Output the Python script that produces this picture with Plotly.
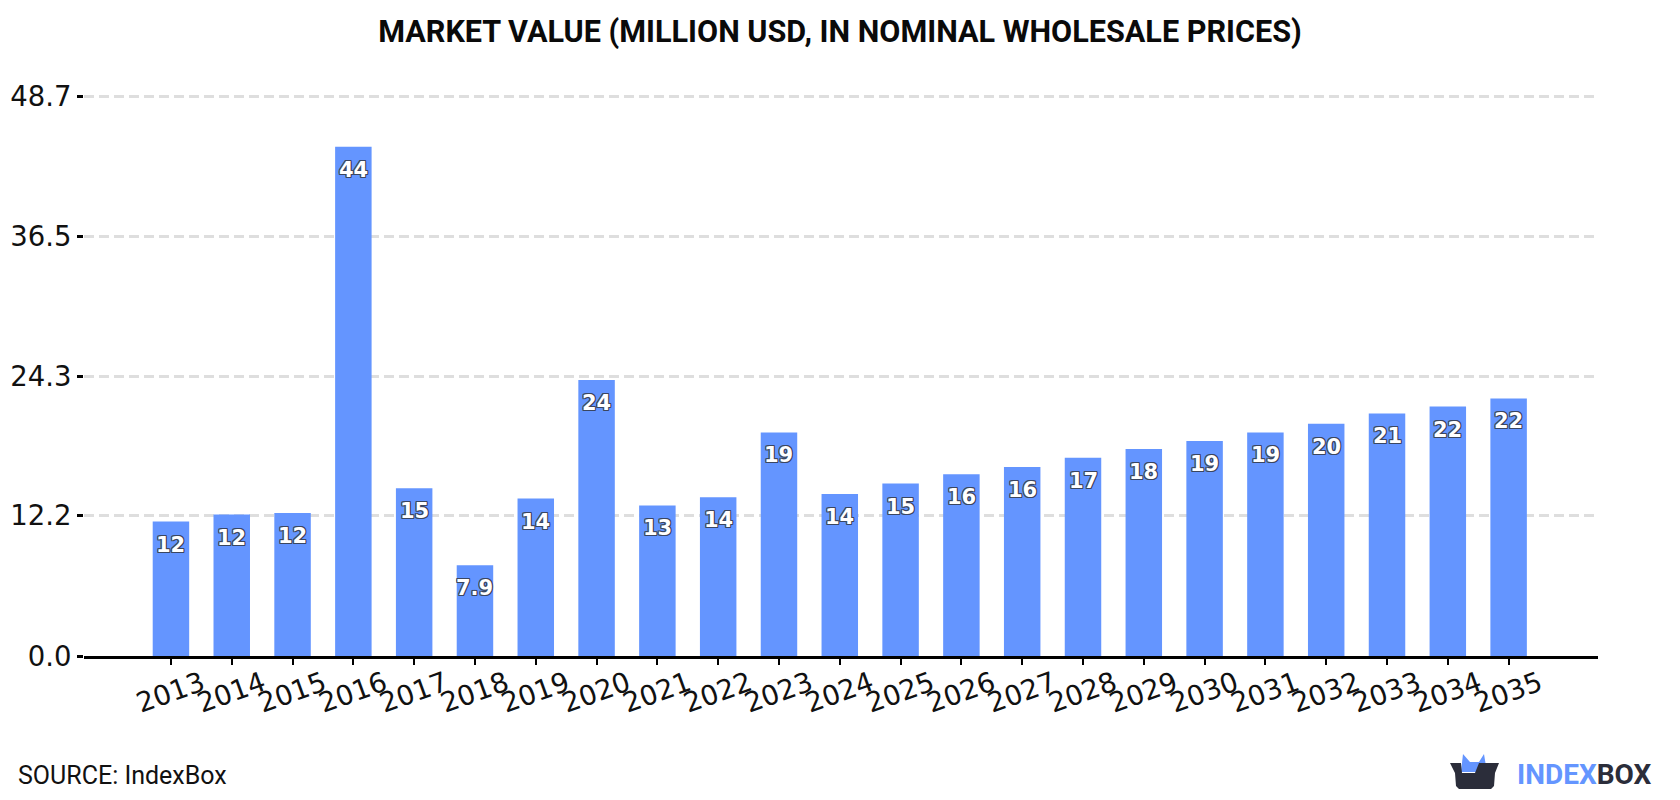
import plotly.graph_objects as go

W, H = 1680, 800
ML, MR, MT, MB = 84, 82, 95, 144

years = [str(y) for y in range(2013, 2036)]
values = [11.7, 12.3, 12.45, 44.3, 14.6, 7.9, 13.7, 24.0, 13.1, 13.8, 19.45, 14.1,
          15.0, 15.8, 16.45, 17.25, 18.0, 18.7, 19.45, 20.2, 21.1, 21.7, 22.4]
y_ticks = [0.0, 12.2, 24.3, 36.5, 48.7]
y_tick_labels = ["0.0", "12.2", "24.3", "36.5", "48.7"]

BLUE = "#6495ff"
DARK = "#2b2d3a"
OUTLINE = "#3a4660"


def short_label(v):
    return f"{v:.2g}"


def px(x):
    return (x - ML) / (W - ML - MR)


def py(y):
    return 1 - (y - MT) / (H - MT - MB)


def path(points):
    return "M " + " L ".join(f"{px(x):.5f},{py(y):.5f}" for x, y in points) + " Z"


halo = ",".join(f"{a}px {b}px 0 {OUTLINE}" for a, b in
                [(-1, -1), (1, -1), (-1, 1), (1, 1), (0, 1), (0, -1), (1, 0), (-1, 0)])

fig = go.Figure(go.Bar(x=years, y=values, width=0.6, marker=dict(color=BLUE, line_width=0),
                       hoverinfo="x+y"))

# value captions just under each bar top
annotations = [
    dict(x=i, y=v, xref="x", yref="y", text=short_label(v), showarrow=False,
         yanchor="middle", yshift=-23,
         font=dict(family="DejaVu Sans", size=21, color="white", weight="bold", shadow=halo))
    for i, v in enumerate(values)
]
annotations += [
    dict(x=px(16), y=py(775), xref="paper", yref="paper", xanchor="left", yanchor="middle",
         text="SOURCE: IndexBox", showarrow=False,
         font=dict(family="Roboto", size=25, color="#111111")),
    dict(x=px(1515), y=py(774), xref="paper", yref="paper", xanchor="left", yanchor="middle",
         text=f'<span style="color:{BLUE}">INDEX</span><span style="color:{DARK}">BOX</span>',
         showarrow=False, font=dict(family="Roboto", size=28, weight="bold")),
]

# brand mark: blue crown behind a dark box
shapes = [
    dict(type="path", xref="paper", yref="paper", fillcolor=BLUE, line_width=0, layer="above",
         path=path([(1461, 772), (1463, 754), (1470, 762), (1479, 762), (1484, 754), (1487, 772)])),
    dict(type="path", xref="paper", yref="paper", fillcolor=DARK, line_width=0, layer="above",
         path=path([(1450, 763), (1461, 763), (1462, 773), (1475, 773), (1479, 763), (1499, 763),
                    (1495, 773), (1494, 786), (1491, 789), (1459, 789), (1456, 786), (1455, 773)])),
]

fig.update_layout(
    width=W, height=H, autosize=False,
    margin=dict(l=ML, r=MR, t=MT, b=MB, autoexpand=False),
    paper_bgcolor="white", plot_bgcolor="white", showlegend=False,
    title=dict(text="<b>MARKET VALUE (MILLION USD, IN NOMINAL WHOLESALE PRICES)</b>",
               x=0.5, xanchor="center", y=1 - 31 / H, yanchor="middle",
               font=dict(family="Roboto", size=30.6, color="#0a0a0a")),
    xaxis=dict(type="category", range=[-1.43, 23.47], tickangle=-20, ticks="outside", ticklen=6,
               tickwidth=2, tickcolor="black", showline=True, linecolor="black", linewidth=3,
               showgrid=False, ticklabelshift=31, ticklabelstandoff=-8,
               tickfont=dict(family="DejaVu Sans", size=27.5, color="#111111")),
    yaxis=dict(range=[0, 48.8], tickmode="array", tickvals=y_ticks, ticktext=y_tick_labels,
               ticks="outside", ticklen=6, tickwidth=3, tickcolor="black", showline=False,
               showgrid=True, gridcolor="#dedede", gridwidth=3, griddash="10px,5px",
               zeroline=False, tickfont=dict(family="DejaVu Sans", size=27.5, color="#111111")),
    annotations=annotations, shapes=shapes,
)

fig.write_html("out.html")
